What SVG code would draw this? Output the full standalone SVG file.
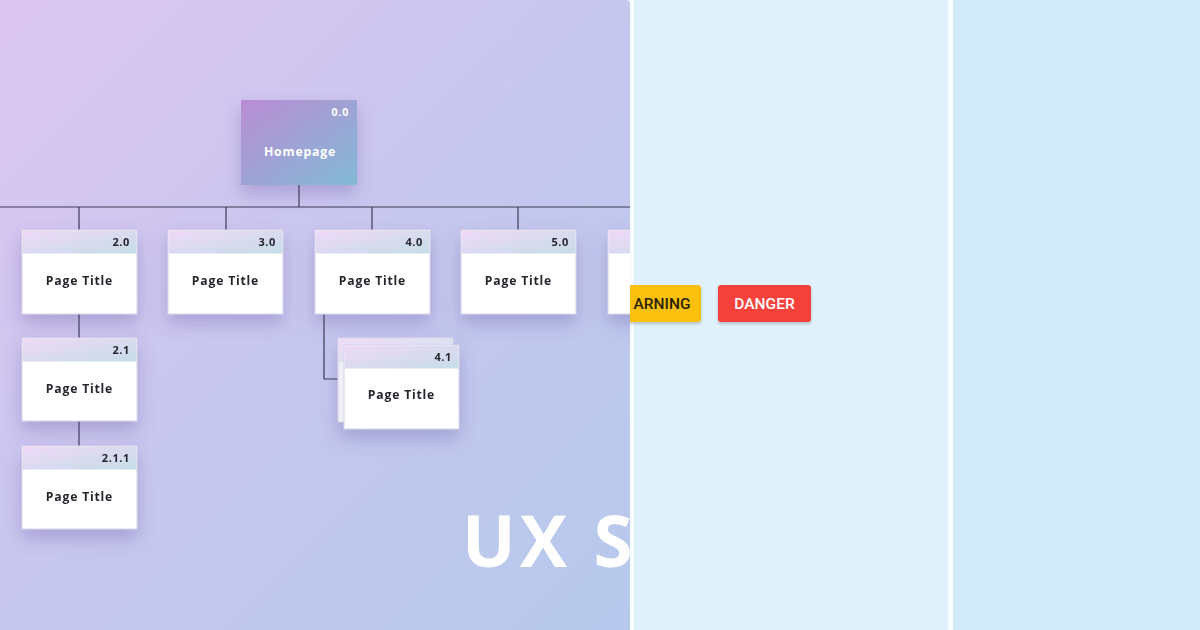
<svg xmlns="http://www.w3.org/2000/svg" width="1200" height="630" viewBox="0 0 1200 630">
<style>
.pt{font-family:"Open Sans","Noto Sans",sans-serif;font-weight:700;font-size:12.2px;letter-spacing:0.8px;fill:#26262e;text-anchor:middle}
.num{font-family:"Open Sans","Noto Sans",sans-serif;font-weight:700;font-size:11px;letter-spacing:0.6px;fill:#26262e;text-anchor:end}
.hp{font-family:"Open Sans","Noto Sans",sans-serif;font-weight:700;font-size:12.3px;letter-spacing:0.8px;fill:#ffffff;text-anchor:middle}
.hpn{font-family:"Open Sans","Noto Sans",sans-serif;font-weight:700;font-size:10.5px;letter-spacing:0.8px;fill:#ffffff;text-anchor:end}
.btn{font-family:Roboto,"Liberation Sans",sans-serif;font-weight:500;font-size:15.5px;text-anchor:middle}
.body{fill:#ffffff;stroke:#d6d4e8;stroke-width:1}
.head{fill:url(#hg)}
.conn{stroke:#3c3a55;stroke-width:1.2;fill:none}
</style>
<defs>
<linearGradient id="bg" x1="0" y1="0" x2="1" y2="1">
<stop offset="0" stop-color="#dcc6f1"/>
<stop offset="0.5" stop-color="#c7c7ee"/>
<stop offset="1" stop-color="#b6c9ec"/>
</linearGradient>
<linearGradient id="hg" x1="0" y1="0" x2="1" y2="1">
<stop offset="0" stop-color="#efd9f7"/>
<stop offset="1" stop-color="#c6dce8"/>
</linearGradient>
<linearGradient id="hpg" x1="0" y1="0" x2="1" y2="1">
<stop offset="0" stop-color="#ba8cd3"/>
<stop offset="1" stop-color="#82bad6"/>
</linearGradient>
<filter id="sh" x="-30%" y="-30%" width="160%" height="190%">
<feDropShadow dx="0" dy="9" stdDeviation="9" flood-color="#5b4c9a" flood-opacity="0.3"/>
</filter>
<filter id="bs" x="-20%" y="-30%" width="140%" height="180%">
<feDropShadow dx="0" dy="2" stdDeviation="1.5" flood-color="#000000" flood-opacity="0.2"/>
</filter>
<clipPath id="lp"><rect x="0" y="0" width="630" height="630"/></clipPath>
</defs>

<rect x="0" y="0" width="1200" height="630" fill="#f6fcff"/>
<rect x="634" y="0" width="314" height="630" fill="#dff1fb"/>
<rect x="953" y="0" width="247" height="630" fill="#d2ebf8"/>

<g id="btn-warning">
<rect x="605" y="285" width="96" height="37" rx="3" fill="#fbbf0f" filter="url(#bs)"/>
<text class="btn" x="662" y="309" fill="#2a2208">ARNING</text>
</g>
<g id="btn-danger">
<rect x="718" y="285" width="93" height="37" rx="3" fill="#f4423a" filter="url(#bs)"/>
<text class="btn" x="764.5" y="309" fill="#ffffff">DANGER</text>
</g>

<path d="M0 0 H626 Q630 0 630 4 V630 H0 Z" fill="url(#bg)"/>

<g clip-path="url(#lp)">
<text x="462" y="567" font-family="'Open Sans','Noto Sans',sans-serif" font-weight="700" font-size="71" letter-spacing="4" fill="#ffffff">UX Si</text>

<g id="connectors">
<line class="conn" x1="0" y1="207" x2="630" y2="207"/>
<line class="conn" x1="299" y1="185" x2="299" y2="207"/>
<line class="conn" x1="79" y1="207" x2="79" y2="230"/>
<line class="conn" x1="226" y1="207" x2="226" y2="230"/>
<line class="conn" x1="372" y1="207" x2="372" y2="230"/>
<line class="conn" x1="518" y1="207" x2="518" y2="230"/>
<line class="conn" x1="79" y1="314" x2="79" y2="338"/>
<line class="conn" x1="79" y1="421" x2="79" y2="446"/>
<polyline class="conn" points="324,314 324,379 338,379"/>
</g>

<g id="node-0-0">
<rect x="241" y="100" width="116" height="85" fill="url(#hpg)" filter="url(#sh)"/>
<text class="hpn" x="349" y="116">0.0</text>
<text class="hp" x="300" y="156">Homepage</text>
</g>

<g id="node-2-0" filter="url(#sh)">
<rect class="body" x="22" y="230" width="115" height="84"/>
<rect class="head" x="22.5" y="230.5" width="114" height="23"/>
<text class="num" x="130" y="246">2.0</text>
<text class="pt" x="79.5" y="285">Page Title</text>
</g>
<g id="node-3-0" filter="url(#sh)">
<rect class="body" x="168" y="230" width="115" height="84"/>
<rect class="head" x="168.5" y="230.5" width="114" height="23"/>
<text class="num" x="276" y="246">3.0</text>
<text class="pt" x="225.5" y="285">Page Title</text>
</g>
<g id="node-4-0" filter="url(#sh)">
<rect class="body" x="315" y="230" width="115" height="84"/>
<rect class="head" x="315.5" y="230.5" width="114" height="23"/>
<text class="num" x="423" y="246">4.0</text>
<text class="pt" x="372.5" y="285">Page Title</text>
</g>
<g id="node-5-0" filter="url(#sh)">
<rect class="body" x="461" y="230" width="115" height="84"/>
<rect class="head" x="461.5" y="230.5" width="114" height="23"/>
<text class="num" x="569" y="246">5.0</text>
<text class="pt" x="518.5" y="285">Page Title</text>
</g>
<g id="node-6-0" filter="url(#sh)">
<rect class="body" x="608" y="230" width="115" height="84"/>
<rect class="head" x="608.5" y="230.5" width="114" height="23"/>
</g>
<g id="node-2-1" filter="url(#sh)">
<rect class="body" x="22" y="338" width="115" height="83"/>
<rect class="head" x="22.5" y="338.5" width="114" height="23"/>
<text class="num" x="130" y="354">2.1</text>
<text class="pt" x="79.5" y="393">Page Title</text>
</g>
<g id="node-2-1-1" filter="url(#sh)">
<rect class="body" x="22" y="446" width="115" height="83"/>
<rect class="head" x="22.5" y="446.5" width="114" height="23"/>
<text class="num" x="130" y="462">2.1.1</text>
<text class="pt" x="79.5" y="501">Page Title</text>
</g>
<g id="node-4-1" filter="url(#sh)">
<rect x="338" y="338" width="115" height="84" fill="#f1f0f7" stroke="#d6d4e8"/>
<rect class="head" x="338.5" y="338.5" width="114" height="23" opacity="0.8"/>
<rect class="body" x="344" y="345" width="115" height="84"/>
<rect class="head" x="344.5" y="345.5" width="114" height="23"/>
<text class="num" x="452" y="361">4.1</text>
<text class="pt" x="401.5" y="399">Page Title</text>
</g>
</g>
</svg>
